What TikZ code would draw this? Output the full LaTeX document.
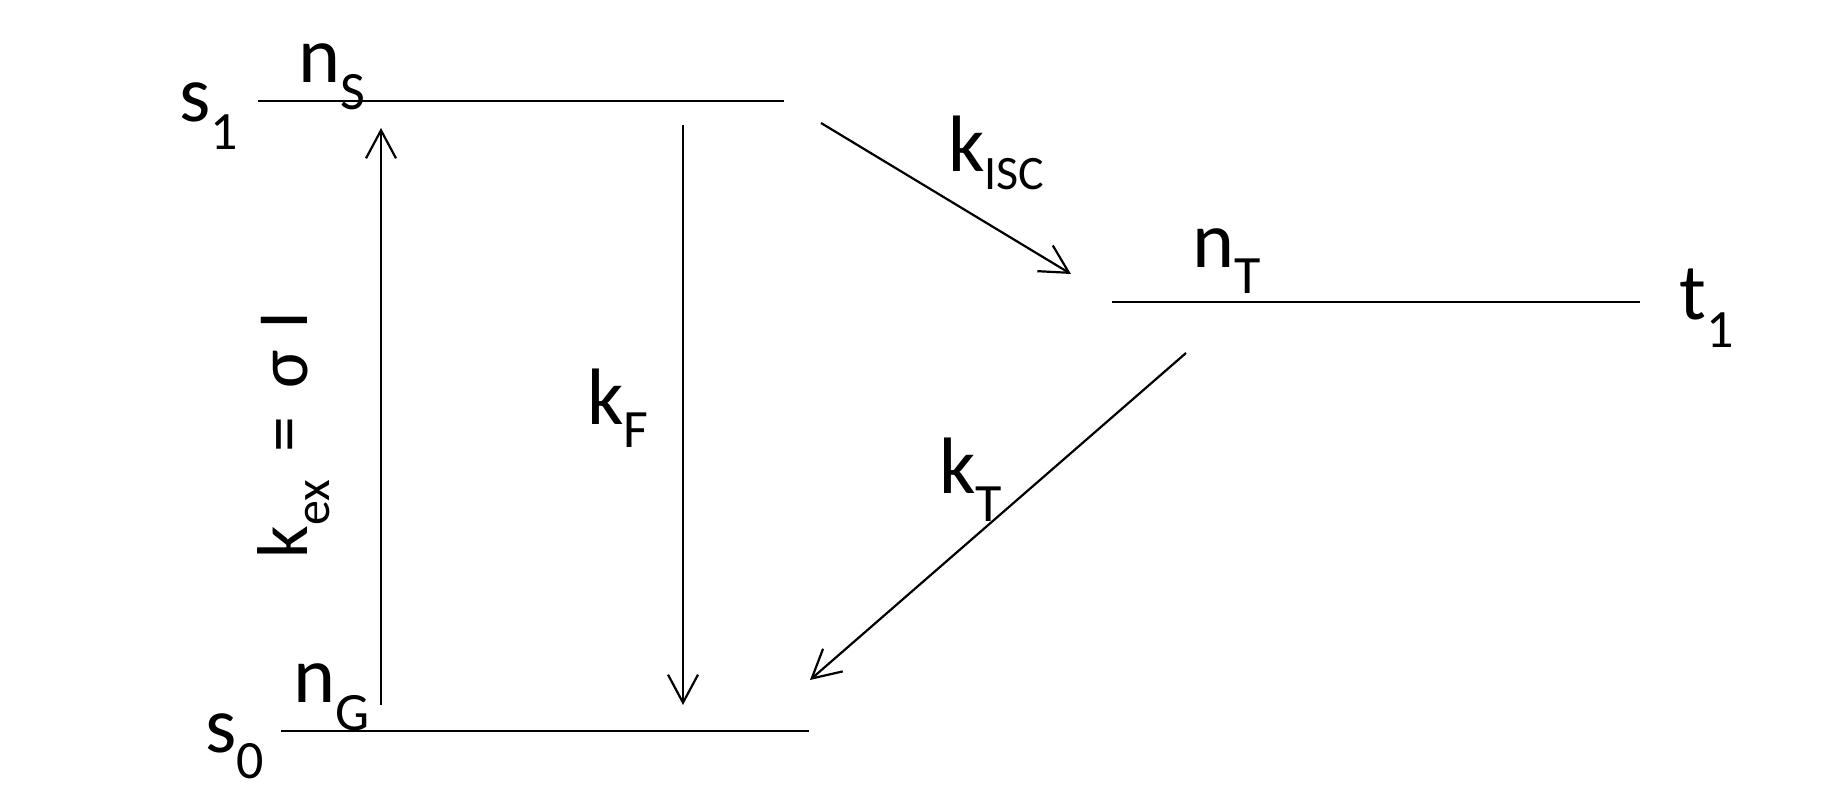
\documentclass[tikz,border=0pt]{standalone}
\usepackage{fontspec}
\setmainfont{Carlito}
\usetikzlibrary{arrows.meta}
\newcommand{\mylab}[4][27]{#2\raisebox{-#4}{\fontsize{#1}{#1}\selectfont #3}}
\begin{document}
\begin{tikzpicture}[x=0.5pt,y=-0.5pt,
  lvl/.style={line width=1.1pt},
  arr/.style={line width=1.1pt,-{Straight Barb[length=14pt,width=15pt,line width=1.1pt]}},
  lab/.style={inner sep=0pt,anchor=base west,font=\fontsize{40}{40}\selectfont}]
\useasboundingbox (0,0) rectangle (1822,791);
\fill[white] (0,0) rectangle (1822,791);
% levels
\coordinate (s1a) at (258,101); \coordinate (s1b) at (784,101);
\coordinate (s0a) at (281,731); \coordinate (s0b) at (809,731);
\coordinate (t1a) at (1112,302); \coordinate (t1b) at (1640,302);
\draw[lvl] (s1a) -- (s1b);
\draw[lvl] (s0a) -- (s0b);
\draw[lvl] (t1a) -- (t1b);
% arrows
\coordinate (exa) at (381,705); \coordinate (exb) at (381,128);
\coordinate (fa) at (683,125); \coordinate (fb) at (683,705);
\coordinate (isca) at (821,123); \coordinate (iscb) at (1071,274);
\coordinate (ta) at (1186,353); \coordinate (tb) at (810,680);
\draw[arr] (exa) -- (exb);
\draw[arr] (fa) -- (fb);
\draw[arr] (isca) -- (iscb);
\draw[arr] (ta) -- (tb);
% labels
\node[lab] (ls1) at (179,122) {\mylab{s}{1}{14pt}};
\node[lab] (lns) at (298,83) {\mylab{n}{S}{13.5pt}};
\node[lab] (ls0) at (205,752) {\mylab{s}{0}{13pt}};
\node[lab] (lng) at (293,702) {\mylab{n}{G}{14pt}};
\node[lab] (lnt) at (1192,268) {\mylab{n}{T}{13pt}};
\node[lab] (lt1) at (1679,320) {\mylab{t}{1}{14pt}};
\node[lab] (lisc) at (948,172) {\mylab[24]{k}{ISC}{9pt}};
\node[lab] (lkf) at (587,424) {\mylab{k}{F}{11.5pt}};
\node[lab] (lkt) at (939,494) {\mylab{k}{T}{13.5pt}};
\node[lab,rotate=90,font=\fontsize{36}{36}\selectfont] (lex) at (307,559)
  {k\raisebox{-11pt}{\fontsize{25}{25}\selectfont ex}\hspace{14pt}=\hspace{14pt}σ\hspace{10pt}I};
\end{tikzpicture}
\end{document}
